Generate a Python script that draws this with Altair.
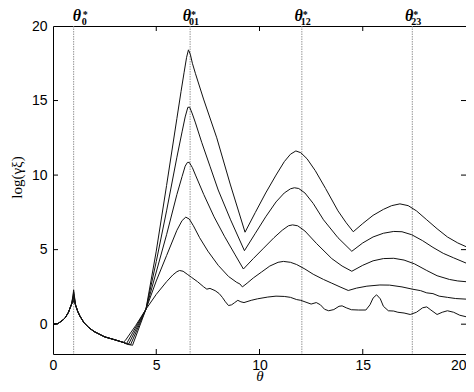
import altair as alt
import pandas as pd

# shared early part (theta 0 .. 3.4); values at 0.97/1.0/1.03 (the cusp) differ per curve
early_x = [0, 0.25, 0.5, 0.6, 0.75, 0.9, 0.97, 1.0, 1.03, 1.1, 1.2, 1.3, 1.5, 1.75, 2.0, 2.5, 3.0, 3.4]
early_y = [0, 0.05, 0.3, 0.45, 0.8, 1.35, None, None, None, 1.25, 0.85, 0.55, 0.1, -0.25, -0.5, -0.85, -1.05, -1.22]
cusp_side = [1.95, 1.85, 1.75, 1.6, 1.45]
cusp_peak = [2.3, 2.15, 2.0, 1.8, 1.6]

c1_x = [3.85, 4.5, 5.0, 5.5, 6.0, 6.2, 6.35, 6.47, 6.56, 6.65, 6.75, 6.9, 7.29, 7.93, 8.58, 9.3,
        9.8, 10.3, 10.8, 11.2, 11.5, 11.76, 12.0, 12.3, 12.7, 13.2, 13.8, 14.2, 14.54,
        15.0, 15.5, 16.0, 16.4, 16.8, 17.2, 17.6, 18.1, 18.6, 19.1, 19.6, 20.0]
c1_y = [-1.42, 1.0, 4.9, 9.3, 13.8, 15.6, 16.9, 17.9, 18.4, 18.1, 17.5, 16.8, 15.1, 12.5, 9.4, 6.17,
        7.5, 8.8, 10.0, 10.9, 11.4, 11.62, 11.5, 11.1, 10.3, 9.1, 7.6, 6.8, 6.2,
        6.75, 7.3, 7.7, 7.95, 8.07, 7.95, 7.6, 7.0, 6.4, 5.85, 5.45, 5.2]

c2_x = [3.75, 4.5, 5.0, 5.5, 6.0, 6.25, 6.4, 6.53, 6.62, 6.75, 6.9, 7.2, 7.6, 8.0, 8.6, 9.27,
        9.8, 10.3, 10.8, 11.2, 11.5, 11.69, 11.9, 12.2, 12.6, 13.1, 13.8, 14.47,
        15.0, 15.5, 16.0, 16.5, 16.9, 17.37, 17.9, 18.4, 18.9, 19.4, 20.0]
c2_y = [-1.4, 1.0, 4.2, 7.6, 11.2, 12.9, 13.9, 14.55, 14.55, 14.1, 13.5, 12.2, 10.6, 9.0, 7.0, 4.93,
        6.1, 7.2, 8.2, 8.8, 9.08, 9.15, 9.1, 8.8, 8.1, 7.0, 5.8, 4.89,
        5.45, 5.85, 6.1, 6.22, 6.2, 6.0, 5.6, 5.15, 4.75, 4.45, 4.1]

c3_x = [3.65, 4.5, 5.0, 5.5, 6.0, 6.25, 6.4, 6.51, 6.6, 6.75, 6.9, 7.3, 7.8, 8.3, 8.8, 9.22,
        9.7, 10.2, 10.7, 11.1, 11.4, 11.6, 11.85, 12.2, 12.77, 13.5, 14.0, 14.47,
        15.0, 15.5, 16.0, 16.5, 17.0, 17.5, 18.1, 18.6, 19.2, 19.6, 20.0]
c3_y = [-1.37, 1.0, 3.5, 6.0, 8.7, 9.9, 10.6, 10.85, 10.85, 10.5, 10.0, 8.7, 7.2, 5.9, 4.7, 3.7,
        4.4, 5.1, 5.8, 6.3, 6.6, 6.66, 6.6, 6.25, 5.4, 4.4, 3.9, 3.55,
        3.95, 4.25, 4.4, 4.42, 4.3, 4.05, 3.6, 3.25, 3.0, 2.9, 2.85]

c4_x = [3.55, 4.5, 5.0, 5.5, 6.0, 6.25, 6.43, 6.6, 6.8, 7.1, 7.5, 8.0, 8.5, 8.9, 9.05, 9.17,
        9.4, 9.7, 10.1, 10.5, 10.9, 11.16, 11.5, 11.8, 12.2, 12.6, 13.1, 13.5, 13.9, 14.3,
        14.7, 15.2, 15.83, 16.3, 16.9, 17.4, 17.8, 18.1, 18.4, 18.7, 19.1, 19.5, 20.0]
c4_y = [-1.33, 1.0, 2.9, 4.6, 6.3, 6.95, 7.18, 7.05, 6.6, 5.8, 4.9, 3.95, 3.2, 2.8, 2.7, 2.5,
        2.75, 3.1, 3.5, 3.9, 4.15, 4.21, 4.15, 4.0, 3.7, 3.35, 3.0, 2.75, 2.5, 2.26,
        2.42, 2.55, 2.63, 2.62, 2.5, 2.35, 2.25, 2.1, 2.05, 1.88, 1.8, 1.72, 1.68]

c5_x = [3.5, 4.0, 4.5, 5.0, 5.5, 5.8, 6.0, 6.13, 6.3, 6.5, 6.7, 7.0, 7.3, 7.45, 7.6, 7.85, 8.05,
        8.2, 8.35, 8.5, 8.65, 8.8, 8.95, 9.1, 9.25, 9.6, 9.9, 10.4, 10.8, 11.2, 11.5, 11.8,
        12.0, 12.3, 12.5, 12.75, 12.95, 13.15, 13.35, 13.6, 13.85, 14.0, 14.2, 14.45, 14.8,
        15.15, 15.35, 15.5, 15.67, 15.85, 16.0, 16.24, 16.5, 16.7, 17.0, 17.3, 17.6, 17.9,
        18.1, 18.3, 18.6, 18.85, 19.1, 19.4, 19.7, 20.0]
c5_y = [-1.1, -0.1, 1.0, 2.0, 2.85, 3.3, 3.52, 3.6, 3.55, 3.35, 3.15, 2.85, 2.5, 2.35, 2.4, 2.25, 2.05,
        1.8, 1.5, 1.25, 1.3, 1.45, 1.6, 1.5, 1.45, 1.6, 1.7, 1.82, 1.88, 1.86, 1.8, 1.65,
        1.6, 1.45, 1.35, 1.45, 1.3, 1.0, 0.9, 0.98, 1.2, 1.23, 1.1, 0.97, 0.95,
        0.95, 1.3, 1.75, 1.97, 1.7, 1.2, 0.9, 0.88, 0.8, 0.75, 0.65, 0.8, 1.1,
        1.16, 0.95, 0.65, 0.8, 0.9, 0.8, 0.6, 0.5]

tails_x = [c1_x, c2_x, c3_x, c4_x, c5_x]
tails_y = [c1_y, c2_y, c3_y, c4_y, c5_y]

theta_star = [1.0, 6.64, 12.05, 17.4]
theta_sub = ["0", "01", "12", "23"]

x_ticks = [5, 10, 15]
y_ticks = [0, 5, 10, 15]

rows = []
for i in range(5):
    ey = list(early_y)
    ey[6] = cusp_side[i]
    ey[7] = cusp_peak[i]
    ey[8] = cusp_side[i]
    xs_ = early_x + tails_x[i]
    ys_ = ey + tails_y[i]
    for k, (a, b) in enumerate(zip(xs_, ys_)):
        rows.append({"curve": f"c{i+1}", "theta": a, "val": b, "order": k})
df = pd.DataFrame(rows)

W, H = 413, 328
xs = alt.Scale(domain=[0, 20], nice=False, zero=False)
ys = alt.Scale(domain=[-2, 20], nice=False, zero=False)

x_axis = alt.Axis(values=[0, 5, 10, 15, 20], format="d", ticks=False, domain=False, grid=False,
                  labelFont="Liberation Sans", labelFontSize=14, labelColor="black", labelPadding=4,
                  labelAlign={"condition": {"test": "datum.value == 20", "value": "right"}, "value": "center"},
                  title="θ", titleFont="Liberation Serif", titleFontStyle="italic", titleFontWeight="normal",
                  titleFontSize=15, titleColor="black", titleBaseline="top", titleY=14)
y_axis = alt.Axis(values=[0, 5, 10, 15, 20], format="d", ticks=False, domain=False, grid=False,
                  labelFont="Liberation Sans", labelFontSize=14, labelColor="black", labelPadding=6,
                  title="log(γξ)", titleFont="Liberation Serif", titleFontWeight="normal",
                  titleFontSize=15, titleColor="black", titleAngle=-90, titleX=-37, titleY=151,
                  titleAlign="center", titleBaseline="middle")

lines = alt.Chart(df).mark_line(color="#111111", strokeWidth=1.0, interpolate="linear").encode(
    x=alt.X("theta:Q", scale=xs, axis=x_axis),
    y=alt.Y("val:Q", scale=ys, axis=y_axis),
    detail="curve:N",
    order="order:Q",
)

star_df = pd.DataFrame({"t": theta_star, "sub": theta_sub})
vrules = alt.Chart(star_df).mark_rule(color="#8a8a8a", strokeWidth=0.9, strokeDash=[1.5, 1]).encode(
    x=alt.X("t:Q", scale=xs)
)

xt_df = pd.DataFrame({"v": x_ticks})
yt_df = pd.DataFrame({"v": y_ticks})
tick_bot = alt.Chart(xt_df).mark_rule(color="black", strokeWidth=1).encode(
    x=alt.X("v:Q", scale=xs), y=alt.value(H), y2=alt.value(H - 5))
tick_top = alt.Chart(xt_df).mark_rule(color="black", strokeWidth=1).encode(
    x=alt.X("v:Q", scale=xs), y=alt.value(0), y2=alt.value(5))
tick_l = alt.Chart(yt_df).mark_rule(color="black", strokeWidth=1).encode(
    y=alt.Y("v:Q", scale=ys), x=alt.value(0), x2=alt.value(5))
tick_r = alt.Chart(yt_df).mark_rule(color="black", strokeWidth=1).encode(
    y=alt.Y("v:Q", scale=ys), x=alt.value(W), x2=alt.value(W - 5))

labels = []
for i, (t, s) in enumerate(zip(theta_star, theta_sub)):
    d = pd.DataFrame({"t": [t], "sub": [s], "main": ["θ"], "star": ["*"]})
    first = i == 0
    main = alt.Chart(d).mark_text(
        font="Liberation Serif", fontSize=16, fontWeight="bold", fontStyle="italic",
        align="left" if first else "right", baseline="alphabetic", dx=-1 if first else 1, color="black"
    ).encode(x=alt.X("t:Q", scale=xs), y=alt.value(-5), text="main:N")
    sub = alt.Chart(d).mark_text(
        font="Liberation Serif", fontSize=10, fontWeight="bold",
        align="left", baseline="alphabetic", dx=8 if first else -1, color="black"
    ).encode(x=alt.X("t:Q", scale=xs), y=alt.value(-1.5), text="sub:N")
    star = alt.Chart(d).mark_text(
        font="Liberation Serif", fontSize=10, fontWeight="bold",
        align="left", baseline="alphabetic", dx=9 if first else 1, color="black"
    ).encode(x=alt.X("t:Q", scale=xs), y=alt.value(-8.5), text="star:N")
    labels += [main, sub, star]

chart = alt.layer(vrules, lines, tick_bot, tick_top, tick_l, tick_r, *labels).properties(
    width=W, height=H,
    autosize=alt.AutoSizeParams(type="none"),
    padding={"left": 45, "top": 18, "right": 0, "bottom": 30},
    background="white",
).configure_view(stroke="black", strokeWidth=1)

chart.save("out.html", embed_options={"renderer": "svg", "actions": False})
